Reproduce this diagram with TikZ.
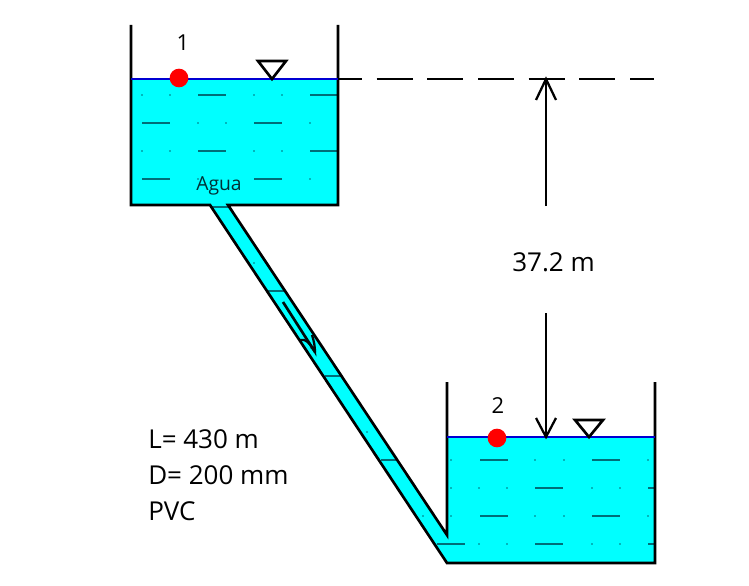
\documentclass[tikz,border=0pt]{standalone}
\usepackage{fontspec}
\setmainfont{Open Sans}
\definecolor{water}{RGB}{0,255,255}
\definecolor{ripple}{RGB}{0,110,120}
\definecolor{surf}{RGB}{0,0,210}
\tikzset{
  wall/.style={draw=black,line width=2pt,line join=miter},
  rip/.style={draw=ripple,line width=0.9pt},
  surfline/.style={draw=surf,line width=2.2pt},
  dimline/.style={draw=black,line width=1.7pt},
  point/.style={circle,fill=red,draw=none,minimum size=14pt,inner sep=0pt},
  txt/.style={inner sep=0pt,font=\fontsize{19.5pt}{21pt}\selectfont},
  small/.style={inner sep=0pt,font=\fontsize{16.5pt}{18pt}\selectfont}
}
\begin{document}
\begin{tikzpicture}[x=0.75pt,y=-0.75pt]
\useasboundingbox (0,0) rectangle (749,585);
% water
\fill[water] (131,79) -- (338,79) -- (338,205) -- (228,205) -- (447,535) -- (447,437) -- (655,437) -- (655,563) -- (447,563) -- (210,205) -- (131,205) -- cycle;
% ripples, held inside the water
\begin{scope}
\clip (131,79) -- (338,79) -- (338,205) -- (228,205) -- (447,535) -- (447,437) -- (655,437) -- (655,563) -- (447,563) -- (210,205) -- (131,205) -- cycle;
\foreach \a/\y in {198/95,310/95,142/123,254/123,198/151,310/151,142/179,254/179,
   480/460,592/460,535/488,535/544,480/516,592/516,648/488,648/544,
   212/207,268/291,325/376,381/460,437/544}{
  \draw[rip] (\a,\y) -- ++(28,0);
}
\foreach \x/\y in {142/95,170/95,254/95,282/95,198/123,226/123,310/123,142/151,170/151,254/151,282/151,198/179,310/179,
   451/460,535/460,564/460,648/460,451/488,479/488,507/488,592/488,620/488,
   451/516,535/516,564/516,648/516,479/544,507/544,592/544,620/544,254/263,311/348,367/432,423/516}{
  \fill[ripple] (\x,\y) circle (0.8);
}
\end{scope}
% tanks
\draw[wall] (131,25) -- (131,205) -- (210,205) -- (447,563) -- (655,563) -- (655,382);
\draw[wall] (338,25) -- (338,205) -- (228,205) -- (447,535) -- (447,382);
\draw[surfline] (131,79) -- (338,79);
\draw[surfline] (447,437) -- (655,437);
% level marks
\draw[wall] (258,61) -- (286,61) -- (272,79) -- cycle;
\draw[wall] (575,420) -- (603,420) -- (589,437) -- cycle;
% points
\node[point] (p1) at (179,78) {};
\node[point] (p2) at (497,438) {};
\node[small] (n1) at (183,43) {1};
\node[small] (n2) at (498,406) {2};
\node[small,font=\fontsize{14.5pt}{16pt}\selectfont,text=ripple!45!black] (ag) at (219,186) {Agua};
% flow arrow
\draw[line width=2pt,black!92!ripple] (283,302) -- (315,352);
\draw[line width=1.7pt,black!92!ripple] (300,340) .. controls (306,338) and (311,345) .. (315,352) .. controls (315,347) and (314,341) .. (312,335);
% datum
\coordinate (d0) at (338,79);
\coordinate (d1) at (654,79);
\draw[dimline,dash pattern=on 27pt off 11pt,dash phase=9pt] (d0) -- (d1);
% dimension
\node[txt] (dim) at (553.5,262) {37.2 m};
\coordinate (t) at (546,79);
\coordinate (a) at (546,206);
\coordinate (b) at (546,313);
\coordinate (c) at (546,437);
\draw[dimline] (a) -- (t);
\draw[dimline] (536,100) -- (t) -- (556,100);
\draw[dimline] (b) -- (c);
\draw[dimline] (536,418) -- (c) -- (556,418);
% data
\node[txt,anchor=west] (l) at (148,439) {L= 430 m};
\node[txt,anchor=west] (d) at (148,475) {D= 200 mm};
\node[txt,anchor=west] (m) at (148,511) {PVC};
\end{tikzpicture}
\end{document}
